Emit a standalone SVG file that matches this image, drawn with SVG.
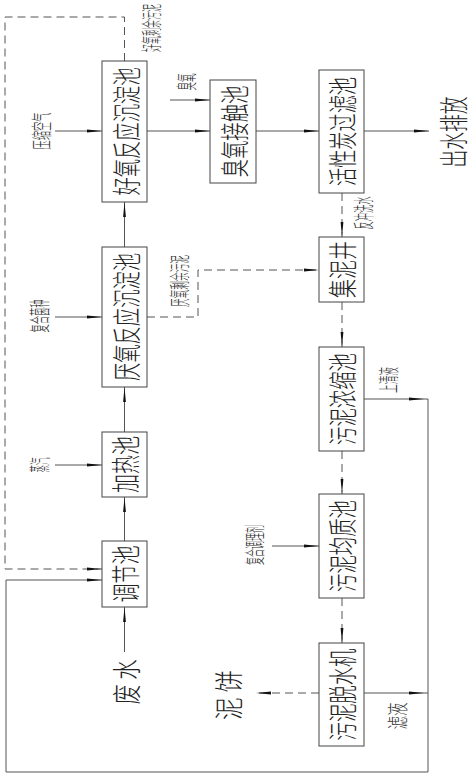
<svg xmlns="http://www.w3.org/2000/svg" width="474" height="775" viewBox="0 0 474 775">
<style>
.box{fill:#fff;stroke:#444;stroke-width:1}
.t{font-family:"Noto Sans CJK SC","Noto Sans",sans-serif;font-size:29px;font-weight:300;fill:#222;text-anchor:middle;dominant-baseline:central}
.s{font-family:"Noto Sans CJK SC","Noto Sans",sans-serif;font-size:21px;font-weight:300;fill:#333;text-anchor:middle;dominant-baseline:central}
.ln{fill:none;stroke:#555;stroke-width:1}
.d{fill:none;stroke:#555;stroke-width:1;stroke-dasharray:8,5}
</style>
<defs>
<marker id="ar" markerUnits="userSpaceOnUse" viewBox="0 0 15 4" markerWidth="15" markerHeight="4" refX="15" refY="2" orient="auto">
<path d="M0,0.6 L15,2 L0,3.4 z" fill="#111"/>
</marker>
</defs>
<g id="connectors">
<path class="ln" d="M124.5,652 V607" marker-end="url(#ar)"/>
<path class="ln" d="M124.5,541 V497" marker-end="url(#ar)"/>
<path class="ln" d="M124.5,432 V387" marker-end="url(#ar)"/>
<path class="ln" d="M124.5,247 V202" marker-end="url(#ar)"/>
<path class="ln" d="M55,131 H102" marker-end="url(#ar)"/>
<path class="ln" d="M147,131 H210" marker-end="url(#ar)"/>
<path class="ln" d="M170,100 H210" marker-end="url(#ar)"/>
<path class="ln" d="M256,131 H319" marker-end="url(#ar)"/>
<path class="ln" d="M364,131 H429" marker-end="url(#ar)"/>
<path class="ln" d="M55,317 H102" marker-end="url(#ar)"/>
<path class="ln" d="M55,465 H102" marker-end="url(#ar)"/>
<path class="d" d="M124.5,61 V17 H5 V569 H102" marker-end="url(#ar)"/>
<path class="ln" d="M364,399 H424" marker-end="url(#ar)"/>
<path class="ln" d="M424,399 H428 V772 H6 V580 H102" marker-end="url(#ar)"/>
<path class="ln" d="M364,693 H424" marker-end="url(#ar)"/>
<path class="ln" d="M424,693 H428"/>
<path class="d" d="M319,693 H256" marker-end="url(#ar)"/>
<path class="ln" d="M272,546 H319" marker-end="url(#ar)"/>
<path class="d" d="M147,317 H198 V270 H319" marker-end="url(#ar)"/>
<path class="d" d="M342,193 V237" marker-end="url(#ar)"/>
<path class="d" d="M342,302 V347" marker-end="url(#ar)"/>
<path class="d" d="M342,451 V494" marker-end="url(#ar)"/>
<path class="d" d="M342,598 V643" marker-end="url(#ar)"/>
</g>
<g id="n-tiaojie"><rect class="box" x="102" y="541" width="45" height="66"/><text class="t" transform="translate(125,574) rotate(-90) scale(0.655,1)">调节池</text></g>
<g id="n-jiare"><rect class="box" x="102" y="432" width="45" height="65"/><text class="t" transform="translate(125,464.5) rotate(-90) scale(0.655,1)">加热池</text></g>
<g id="n-yanyang"><rect class="box" x="102" y="247" width="45" height="140"/><text class="t" transform="translate(125,317) rotate(-90) scale(0.631,1)">厌氧反应沉淀池</text></g>
<g id="n-haoyang"><rect class="box" x="102" y="61" width="45" height="141"/><text class="t" transform="translate(125,131.5) rotate(-90) scale(0.631,1)">好氧反应沉淀池</text></g>
<g id="n-chouyang"><rect class="box" x="210" y="80" width="46" height="103"/><text class="t" transform="translate(233,131.5) rotate(-90) scale(0.634,1)">臭氧接触池</text></g>
<g id="n-huoxingtan"><rect class="box" x="319" y="70" width="45" height="123"/><text class="t" transform="translate(341.5,131.5) rotate(-90) scale(0.626,1)">活性炭过滤池</text></g>
<g id="n-chushui"><text class="t" transform="translate(452,132) rotate(-90) scale(0.612,1)">出水排放</text></g>
<g id="n-jinijing"><rect class="box" x="319" y="237" width="45" height="65"/><text class="t" transform="translate(341.5,269.5) rotate(-90) scale(0.655,1)">集泥井</text></g>
<g id="n-nongsuo"><rect class="box" x="319" y="347" width="45" height="104"/><text class="t" transform="translate(341.5,399) rotate(-90) scale(0.634,1)">污泥浓缩池</text></g>
<g id="n-junzhi"><rect class="box" x="319" y="494" width="45" height="104"/><text class="t" transform="translate(341.5,546) rotate(-90) scale(0.634,1)">污泥均质池</text></g>
<g id="n-tuoshui"><rect class="box" x="319" y="643" width="45" height="103"/><text class="t" transform="translate(341.5,694.5) rotate(-90) scale(0.634,1)">污泥脱水机</text></g>
<g id="n-feishui"><text class="t" transform="translate(125,682) rotate(-90)" textLength="45" lengthAdjust="spacingAndGlyphs">废 水</text></g>
<g id="n-nibing"><text class="t" transform="translate(227,695) rotate(-90)" textLength="50" lengthAdjust="spacingAndGlyphs">泥 饼</text></g>
<g id="labels">
<text class="s" transform="translate(40,131) rotate(-90) scale(0.44,1)">压缩空气</text>
<text class="s" transform="translate(185,82) rotate(-90) scale(0.405,1)">臭氧</text>
<text class="s" transform="translate(150,28) rotate(-90) scale(0.381,1)">好氧剩余污泥</text>
<text class="s" transform="translate(38,316) rotate(-90) scale(0.393,1)">复合菌种</text>
<text class="s" transform="translate(38,465) rotate(-90) scale(0.357,1)">蒸汽</text>
<text class="s" transform="translate(178,281) rotate(-90) scale(0.413,1)">厌氧剩余污泥</text>
<text class="s" transform="translate(362,213) rotate(-90) scale(0.393,1)">反冲洗水</text>
<text class="s" transform="translate(387,380) rotate(-90) scale(0.413,1)">上清液</text>
<text class="s" transform="translate(253,545) rotate(-90) scale(0.381,1)">复合调理剂</text>
<text class="s" transform="translate(396,716) rotate(-90) scale(0.643,1)">滤液</text>
</g>
</svg>
